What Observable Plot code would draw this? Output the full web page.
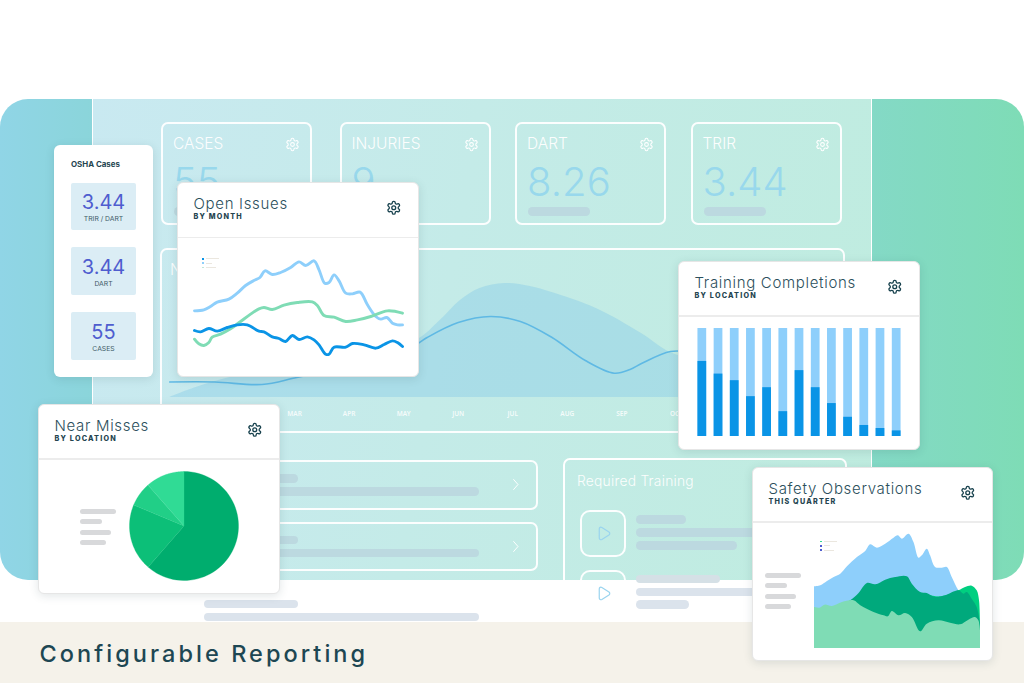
<!DOCTYPE html>
<html><head><meta charset="utf-8">
<script src="https://cdn.jsdelivr.net/npm/d3@7"></script>
<script src="https://cdn.jsdelivr.net/npm/@observablehq/plot@0.6"></script>
<style>
html,body{margin:0;padding:0;background:#fff}
#stage{position:relative;width:1024px;height:683px;overflow:hidden;font-family:Inter,sans-serif;background:#fff}
#stage div,#stage span{position:absolute;box-sizing:border-box}
#stage svg.g{position:absolute;fill:none;stroke-linecap:round;stroke-linejoin:round}
.tile{border:2px solid rgba(255,255,255,.95);border-radius:7px}
.lab{color:#fff;font-size:15.5px;white-space:nowrap;line-height:18px;opacity:.95;font-weight:300}
.num{color:#98d8ec;font-size:40px;line-height:44px;white-space:nowrap;letter-spacing:.1px;font-weight:300}
.card{background:#fff;border:1px solid #e6e6e6;border-radius:6px;box-shadow:0 2px 10px rgba(30,60,70,.13)}
.hr{left:0;right:0;height:1.5px;background:#ececec}
.t{color:#2c4f5c;font-size:15px;line-height:16px;white-space:nowrap;letter-spacing:.68px;font-weight:300}
.s{color:#24444f;font-size:7.2px;font-weight:800;line-height:8px;white-space:nowrap;letter-spacing:1.2px}
.kpi{left:17px;width:65px;height:47.5px;background:#dbedf5;border-radius:2px;text-align:center}
.kn{left:0;right:0;color:#4f5dcf;font-size:20px;line-height:24px;text-align:center;font-weight:400}
.kl{left:0;right:0;color:#3f5c68;font-size:6.8px;line-height:9px;text-align:center}
</style></head><body>
<div id="stage">
  <div style="left:0;top:99px;width:1024px;height:481px;border-radius:28px;background:linear-gradient(90deg,#90d5e6 0%,#8ad5d9 10%,#84d9c6 85%,#7edcb6 100%)"></div>
  <div id="panel" style="left:92px;top:99px;width:780px;height:481px;background:linear-gradient(100deg,#c9e9f1 0%,#c4ebe8 45%,#bfecdf 100%);border-left:1.5px solid #fff;border-right:1.5px solid #fff"></div>
  <div style="left:0;top:622px;width:1024px;height:61px;background:#f5f2ea"></div>
  <span style="left:39.5px;top:638px;color:#1d4753;font-size:23.5px;line-height:32px;letter-spacing:3.05px;white-space:nowrap;font-weight:500">Configurable Reporting</span>
</div>
<script>
// ---------- data ----------
const kpiNames = ["CASES", "INJURIES", "DART", "TRIR"];
const kpiValues = ["55", "9", "8.26", "3.44"];
const oshaValues = ["3.44", "3.44", "55"];
const oshaLabels = ["TRIR / DART", "DART", "CASES"];
const months = ["JAN","FEB","MAR","APR","MAY","JUN","JUL","AUG","SEP","OCT","NOV","DEC"];

const trendAreaX = [-0.29,0.25,1.37,2.65,3.57,4.26,4.67,5.04,5.40,5.86,6.32,6.72,7.53,8.36,8.89,9.44,10.54,11.27,12.1];
const trendAreaV = [0,11,27,37,47,58,77,97,109,114,111,105,89,64,45,37,22,12,2];
const trendLineX = [-0.29,0.54,1.40,2.04,2.83,3.66,4.26,4.43,5.0,5.59,6.14,6.72,7.33,7.86,8.15,8.36,8.89,9.25,9.62];
const trendLineV = [15.5,15.5,13,20,29,39,54,60,75,81,76,60,37,24.3,28,34,46,45,37];

const issuesLightX = [0,28,48,68,103,128,153,178,196,211,233,258,288,313,333,358,373,390,403,418,433,453,473,496,518,543,558,576,593,608,623];
const issuesLightV = [212,215,225,238,247,265,288,303,312,332,321,327,342,359,348,362,335,295,297,320,302,265,263,268,230,195,187,192,175,170,170];
const issuesGreenX = [0,13,28,43,53,78,108,138,168,193,208,233,268,308,353,368,388,418,453,488,528,578,623];
const issuesGreenV = [127,113,108,117,133,142,158,180,202,218,222,216,229,237,239,228,198,193,180,185,195,212,205];
const issuesBlueX = [0,18,43,68,98,128,158,193,208,233,253,273,293,313,338,358,373,393,403,418,453,473,508,543,568,593,608,623];
const issuesBlueV = [153,149,159,151,162,170,170,151,149,134,129,120,138,126,134,125,110,82,82,103,103,114,110,100,111,122,117,105];

const locations = ["A","B","C","D","E","F","G","H","I","J","K","L","M"];
const completed = [69.5,57.8,51.7,36.9,45.2,23,61,45.2,30.5,17.8,10.2,7.4,5.2];

const missSlices = ["S1","S2","S3","S4"];
const missShares = [61.4,19.9,7.2,11.5];
const missColors = ["#00ad6e","#0cbf78","#21cf87","#30db95"];

const obsBlueX = [0,19,39,59,79,99,129,154,169,189,214,239,252,264,284,299,314,324,339,349,364,384,399,414,434,454,474,489,499];
const obsBlueV = [185,188,201,213,223,245,273,291,311,301,313,331,338,328,343,318,271,278,298,278,243,241,243,213,173,150,120,100,60];
const obsBrightX = [0,100,200,300,380,434,454,474,489,496,499];
const obsBrightV = [80,130,190,170,155,173,183,187,173,143,63];
const obsDarkX = [0,60,109,134,159,184,214,244,279,294,319,339,364,394,434,449,459,474,489,499];
const obsDarkV = [90,120,143,165,195,191,205,213,215,193,168,165,153,158,173,163,168,148,123,73];
const obsMintX = [0,16,32,54,84,119,139,179,209,222,234,254,274,294,319,339,374,409,439,464,484,494,499];
const obsMintV = [123,121,130,126,138,143,128,108,98,95,111,98,105,93,50,73,83,76,71,85,93,83,53];

// ---------- helpers ----------
const stage = document.getElementById("stage");
const zip = (xs, vs) => xs.map((x, i) => ({x, v: vs[i]}));
function add(parent, cls, style, text) {
  const d = document.createElement("div");
  d.className = cls; d.style.cssText = style;
  if (text != null) d.textContent = text;
  parent.appendChild(d); return d;
}
function ph(parent, x, y, w, h, c) { return add(parent, "", `left:${x}px;top:${y}px;width:${w}px;height:${h}px;border-radius:${h/2}px;background:${c}`); }
const GEAR = '<path d="M12.22 2h-.44a2 2 0 0 0-2 2v.18a2 2 0 0 1-1 1.73l-.43.25a2 2 0 0 1-2 0l-.15-.08a2 2 0 0 0-2.73.73l-.22.38a2 2 0 0 0 .73 2.73l.15.1a2 2 0 0 1 1 1.72v.51a2 2 0 0 1-1 1.74l-.15.09a2 2 0 0 0-.73 2.73l.22.38a2 2 0 0 0 2.73.73l.15-.08a2 2 0 0 1 2 0l.43.25a2 2 0 0 1 1 1.73V20a2 2 0 0 0 2 2h.44a2 2 0 0 0 2-2v-.18a2 2 0 0 1 1-1.73l.43-.25a2 2 0 0 1 2 0l.15.08a2 2 0 0 0 2.73-.73l.22-.39a2 2 0 0 0-.73-2.73l-.15-.08a2 2 0 0 1-1-1.74v-.5a2 2 0 0 1 1-1.74l.15-.09a2 2 0 0 0 .73-2.73l-.22-.38a2 2 0 0 0-2.73-.73l-.15.08a2 2 0 0 1-2 0l-.43-.25a2 2 0 0 1-1-1.73V4a2 2 0 0 0-2-2z"/><circle cx="12" cy="12" r="3"/>';
function icon(parent, inner, x, y, size, color, sw) {
  const ns = "http://www.w3.org/2000/svg";
  const s = document.createElementNS(ns, "svg");
  s.setAttribute("viewBox", "0 0 24 24"); s.setAttribute("width", size); s.setAttribute("height", size);
  s.setAttribute("class", "g"); s.setAttribute("stroke", color); s.setAttribute("stroke-width", sw);
  s.style.left = (x - size/2) + "px"; s.style.top = (y - size/2) + "px";
  s.innerHTML = inner; parent.appendChild(s); return s;
}
function place(parent, plot, x, y) {
  const w = add(parent, "", `left:${x}px;top:${y}px;width:${plot.getAttribute("width")}px;height:${plot.getAttribute("height")}px`);
  plot.style.background = "transparent"; plot.style.overflow = "visible"; plot.style.maxWidth = "none";
  w.appendChild(plot); return w;
}
function card(x, y, w, h, hr, title, sub) {
  const c = add(stage, "card", `left:${x}px;top:${y}px;width:${w}px;height:${h}px`);
  add(c, "hr", `top:${hr}px`);
  add(c, "t", `left:15.5px;top:12.5px`, title);
  add(c, "s", `left:15.5px;top:30px`, sub);
  icon(c, GEAR, w - 26, 25, 15.5, "#17414d", 2);
  return c;
}
function miniLegend(parent, x, y, cols) {
  cols.forEach((c, i) => {
    add(parent, "", `left:${x}px;top:${y + i*4.4}px;width:1.7px;height:1.7px;background:${c}`);
    add(parent, "", `left:${x+4}px;top:${y + i*4.4 + .3}px;width:${[13,6,10][i]}px;height:1.1px;background:#ebe7df`);
  });
}

// ---------- background dashboard ----------
const tileX = [161, 339.5, 515, 690.5];
kpiNames.forEach((n, i) => {
  const t = add(stage, "tile", `left:${tileX[i]}px;top:121.5px;width:151px;height:103.5px`);
  add(t, "lab", "left:10px;top:11px", n);
  add(t, "num", "left:10px;top:36.5px", kpiValues[i]);
  ph(t, 11, 83.5, 62, 8.5, "#bcd9e0");
  icon(t, GEAR, 129.5, 20.5, 15, "#fff", 1.7);
});

add(stage, "tile", "left:159.5px;top:248px;width:685px;height:184.5px");
add(stage, "lab", "left:170px;top:261px", "Near Misses");
place(stage, Plot.plot({
  width: 685, height: 185, marginLeft: 26, marginRight: 59, marginTop: 0, marginBottom: 36,
  x: {domain: [0, 11], axis: null}, y: {domain: [0, 149], axis: null},
  marks: [
    Plot.areaY(zip(trendAreaX, trendAreaV), {x: "x", y: "v", curve: "catmull-rom", fill: "#8fcfe8", fillOpacity: .5}),
    Plot.lineY(zip(trendLineX, trendLineV), {x: "x", y: "v", curve: "catmull-rom", stroke: "#5fb9e4", strokeWidth: 1.6}),
    Plot.axisX({ticks: d3.range(12), tickFormat: i => months[i], tickSize: 0, tickPadding: 14, fontSize: 6.5, fontWeight: 600, fill: "#fff", fillOpacity: .85, label: null})
  ]
}), 159, 248);

// list rows
[460, 521.7].forEach(y => {
  add(stage, "tile", `left:190px;top:${y}px;width:347.5px;height:49.5px`);
  ph(stage, 204, y + 14, 94, 8.5, "#bcd9e0");
  ph(stage, 204, y + 27, 275, 8.5, "#bcd9e0");
  icon(stage, '<path d="M9 4l7 8-7 8"/>', 515, y + 24.5, 15, "#fff", 1.5);
});
ph(stage, 204, 599.5, 94, 8.5, "#dbe3ec");
ph(stage, 204, 612.5, 275, 8.5, "#dbe3ec");

// required training (clipped at the band's bottom)
const clip = add(stage, "", "left:0;top:0;width:1024px;height:580px;overflow:hidden");
add(clip, "", "left:562.7px;top:458.3px;width:284px;height:140px;border:2px solid #fff;border-radius:7px");
add(clip, "lab", "left:577px;top:472px;font-size:13.8px;letter-spacing:.25px", "Required Training");
add(clip, "", "left:580px;top:510px;width:46px;height:47px;border:2px solid rgba(255,255,255,.95);border-radius:10px");
add(clip, "", "left:580px;top:569.5px;width:46px;height:47px;border:2px solid rgba(255,255,255,.95);border-radius:10px");
const PLAY = '<path d="M6 5.5c0-2 2-3 3.7-2l10 6.3c1.5 1 1.5 3.3 0 4.3l-10 6.3c-1.7 1-3.7 0-3.7-2z"/>';
icon(stage, PLAY, 603, 533, 17, "#9ad4ef", 1.7);
icon(stage, PLAY, 603, 593, 17, "#9ad4ef", 1.7);
ph(stage, 636, 515, 50, 8.5, "#bcd9e0");
ph(stage, 636, 528, 130, 8.5, "#bcd9e0");
ph(stage, 636, 541, 101, 8.5, "#bcd9e0");
ph(stage, 636, 574.7, 84, 8.5, "#d5e0e6");
ph(stage, 636, 587.5, 130, 8.5, "#dbe3ec");
ph(stage, 636, 600, 53, 8.5, "#dbe3ec");

// ---------- OSHA card ----------
const osha = add(stage, "card", "left:54px;top:145px;width:99px;height:232px;border-radius:6px;border:none");
add(osha, "", "left:17px;top:14px;color:#24444f;font-size:7.9px;font-weight:700;line-height:11px;white-space:nowrap", "OSHA Cases");
[37.7, 102.3, 167.3].forEach((y, i) => {
  const k = add(osha, "kpi", `top:${y}px`);
  add(k, "kn", "top:7.5px", oshaValues[i]);
  add(k, "kl", "top:31.5px", oshaLabels[i]);
});

// ---------- Open Issues ----------
const c1 = card(177, 182, 241.5, 195, 53.5, "Open Issues", "BY MONTH");
miniLegend(c1, 24, 75, ["#0a94e6", "#8ecffb", "#bfe6d6"]);
place(c1, Plot.plot({
  width: 216, height: 130, marginLeft: 4, marginRight: 4, marginTop: 0, marginBottom: 0,
  x: {domain: [0, 623], axis: null}, y: {domain: [30, 420], axis: null},
  marks: [
    Plot.lineY(zip(issuesLightX, issuesLightV), {x: "x", y: "v", curve: "catmull-rom", stroke: "#8ecffb", strokeWidth: 2.9}),
    Plot.lineY(zip(issuesGreenX, issuesGreenV), {x: "x", y: "v", curve: "catmull-rom", stroke: "#7fdcb5", strokeWidth: 2.9}),
    Plot.lineY(zip(issuesBlueX, issuesBlueV), {x: "x", y: "v", curve: "catmull-rom", stroke: "#0a94e6", strokeWidth: 2.9})
  ]
}), 12, 57.5);

// ---------- Training Completions ----------
const c2 = card(678, 261, 241.5, 188.5, 53, "Training Completions", "BY LOCATION");
place(c2, Plot.plot({
  width: 218, height: 108, marginLeft: 0, marginRight: 0, marginTop: 0, marginBottom: 0,
  x: {domain: locations, padding: .46, round: false, axis: null}, y: {domain: [0, 100], axis: null},
  marks: [
    Plot.barY(locations, {x: d => d, y: () => 100, fill: "#8ecffb"}),
    Plot.barY(locations, {x: d => d, y: (d, i) => completed[i], fill: "#0a94e6"})
  ]
}), 11, 66);

// ---------- Near Misses ----------
const c3 = card(38, 404, 241.5, 189.5, 53, "Near Misses", "BY LOCATION");
[[0,36],[1,22],[2,31],[3,26]].forEach(([i, w]) => ph(c3, 40.5, 104 + i*10.3, w, 5, "#d8d9db"));
const pts = [];
{ let a0 = 0;
  missShares.forEach((s, k) => {
    const a1 = a0 + s / 100 * 2 * Math.PI;
    for (let j = 0; j <= 60; j++) { const a = a0 + (a1 - a0) * j / 60; pts.push({slice: missSlices[k], x: Math.sin(a), y: Math.cos(a)}); }
    a0 = a1;
  });
}
place(c3, Plot.plot({
  width: 116, height: 116, margin: 0,
  x: {domain: [-1.064, 1.064], axis: null}, y: {domain: [-1.064, 1.064], axis: null},
  color: {domain: missSlices, range: missColors},
  marks: [Plot.area(pts, {x1: () => 0, y1: () => 0, x2: "x", y2: "y", z: "slice", fill: "slice", stroke: "slice", strokeWidth: .3})]
}), 86.5, 63);

// ---------- Safety Observations ----------
const c4 = card(752, 467, 241, 194, 53, "Safety Observations", "THIS QUARTER");
[[0,36],[1,22],[2,31],[3,26]].forEach(([i, w]) => ph(c4, 11.5, 105 + i*10.3, w, 5, "#d8d9db"));
miniLegend(c4, 67, 72.5, ["#30db95", "#4f5dcf", "#4f5dcf"]);
place(c4, Plot.plot({
  width: 166, height: 121, margin: 0,
  x: {domain: [0, 499], axis: null}, y: {domain: [0, 363], axis: null},
  marks: [
    Plot.areaY(zip(obsBlueX, obsBlueV), {x: "x", y: "v", curve: "catmull-rom", fill: "#8ecffb"}),
    Plot.areaY(zip(obsBrightX, obsBrightV), {x: "x", y: "v", curve: "catmull-rom", fill: "#00cf80"}),
    Plot.areaY(zip(obsDarkX, obsDarkV), {x: "x", y: "v", curve: "catmull-rom", fill: "#00a97c"}),
    Plot.areaY(zip(obsMintX, obsMintV), {x: "x", y: "v", curve: "catmull-rom", fill: "#7fdcb5"})
  ]
}), 61, 58.5);
</script>
</body></html>
